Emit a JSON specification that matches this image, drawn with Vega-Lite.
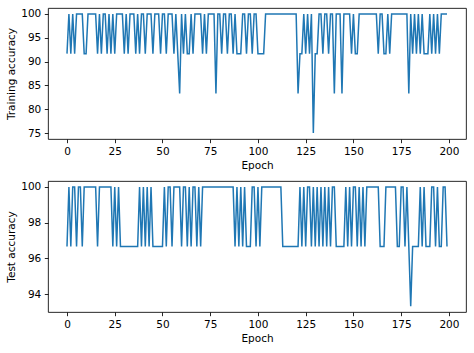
{
  "$schema": "https://vega.github.io/schema/vega-lite/v6.json",
  "padding": {"left": 6, "top": 7, "right": 6, "bottom": 4},
  "spacing": 8,
  "datasets": {
    "acc": [
      {"e":0,"tr":91.67,"te":96.67},{"e":1,"tr":100,"te":100},{"e":2,"tr":91.67,"te":96.67},{"e":3,"tr":100,"te":100},{"e":4,"tr":91.67,"te":100},
      {"e":5,"tr":100,"te":96.67},{"e":6,"tr":100,"te":100},{"e":7,"tr":100,"te":100},{"e":8,"tr":100,"te":96.67},{"e":9,"tr":91.67,"te":100},
      {"e":10,"tr":91.67,"te":100},{"e":11,"tr":100,"te":100},{"e":12,"tr":100,"te":100},{"e":13,"tr":100,"te":100},{"e":14,"tr":100,"te":100},
      {"e":15,"tr":100,"te":100},{"e":16,"tr":91.67,"te":96.67},{"e":17,"tr":100,"te":100},{"e":18,"tr":91.67,"te":100},{"e":19,"tr":100,"te":100},
      {"e":20,"tr":100,"te":100},{"e":21,"tr":91.67,"te":100},{"e":22,"tr":100,"te":100},{"e":23,"tr":91.67,"te":100},{"e":24,"tr":100,"te":96.67},
      {"e":25,"tr":91.67,"te":100},{"e":26,"tr":100,"te":96.67},{"e":27,"tr":100,"te":100},{"e":28,"tr":100,"te":96.67},{"e":29,"tr":100,"te":96.67},
      {"e":30,"tr":91.67,"te":96.67},{"e":31,"tr":100,"te":96.67},{"e":32,"tr":91.67,"te":96.67},{"e":33,"tr":100,"te":96.67},{"e":34,"tr":100,"te":96.67},
      {"e":35,"tr":100,"te":96.67},{"e":36,"tr":91.67,"te":96.67},{"e":37,"tr":100,"te":96.67},{"e":38,"tr":91.67,"te":100},{"e":39,"tr":100,"te":96.67},
      {"e":40,"tr":100,"te":100},{"e":41,"tr":91.67,"te":96.67},{"e":42,"tr":100,"te":100},{"e":43,"tr":100,"te":96.67},{"e":44,"tr":100,"te":100},
      {"e":45,"tr":91.67,"te":96.67},{"e":46,"tr":100,"te":96.67},{"e":47,"tr":100,"te":96.67},{"e":48,"tr":100,"te":96.67},{"e":49,"tr":91.67,"te":96.67},
      {"e":50,"tr":100,"te":96.67},{"e":51,"tr":100,"te":100},{"e":52,"tr":91.67,"te":96.67},{"e":53,"tr":100,"te":100},{"e":54,"tr":100,"te":100},
      {"e":55,"tr":100,"te":96.67},{"e":56,"tr":91.67,"te":100},{"e":57,"tr":100,"te":100},{"e":58,"tr":91.67,"te":100},{"e":59,"tr":83.33,"te":100},
      {"e":60,"tr":100,"te":96.67},{"e":61,"tr":91.67,"te":100},{"e":62,"tr":100,"te":100},{"e":63,"tr":91.67,"te":96.67},{"e":64,"tr":91.67,"te":100},
      {"e":65,"tr":100,"te":96.67},{"e":66,"tr":91.67,"te":100},{"e":67,"tr":100,"te":100},{"e":68,"tr":100,"te":96.67},{"e":69,"tr":100,"te":100},
      {"e":70,"tr":100,"te":96.67},{"e":71,"tr":91.67,"te":100},{"e":72,"tr":100,"te":100},{"e":73,"tr":91.67,"te":100},{"e":74,"tr":100,"te":100},
      {"e":75,"tr":100,"te":100},{"e":76,"tr":100,"te":100},{"e":77,"tr":100,"te":100},{"e":78,"tr":83.33,"te":100},{"e":79,"tr":100,"te":100},
      {"e":80,"tr":100,"te":100},{"e":81,"tr":91.67,"te":100},{"e":82,"tr":100,"te":100},{"e":83,"tr":100,"te":100},{"e":84,"tr":91.67,"te":100},
      {"e":85,"tr":100,"te":100},{"e":86,"tr":100,"te":100},{"e":87,"tr":91.67,"te":100},{"e":88,"tr":100,"te":96.67},{"e":89,"tr":91.67,"te":100},
      {"e":90,"tr":91.67,"te":96.67},{"e":91,"tr":91.67,"te":100},{"e":92,"tr":100,"te":96.67},{"e":93,"tr":100,"te":100},{"e":94,"tr":91.67,"te":96.67},
      {"e":95,"tr":100,"te":96.67},{"e":96,"tr":100,"te":96.67},{"e":97,"tr":91.67,"te":100},{"e":98,"tr":100,"te":100},{"e":99,"tr":100,"te":96.67},
      {"e":100,"tr":91.67,"te":100},{"e":101,"tr":91.67,"te":96.67},{"e":102,"tr":91.67,"te":100},{"e":103,"tr":91.67,"te":100},{"e":104,"tr":100,"te":100},
      {"e":105,"tr":100,"te":100},{"e":106,"tr":100,"te":100},{"e":107,"tr":100,"te":100},{"e":108,"tr":100,"te":100},{"e":109,"tr":100,"te":100},
      {"e":110,"tr":100,"te":100},{"e":111,"tr":100,"te":100},{"e":112,"tr":100,"te":100},{"e":113,"tr":100,"te":96.67},{"e":114,"tr":100,"te":96.67},
      {"e":115,"tr":100,"te":96.67},{"e":116,"tr":100,"te":96.67},{"e":117,"tr":100,"te":96.67},{"e":118,"tr":100,"te":96.67},{"e":119,"tr":100,"te":96.67},
      {"e":120,"tr":100,"te":96.67},{"e":121,"tr":83.33,"te":96.67},{"e":122,"tr":91.67,"te":100},{"e":123,"tr":91.67,"te":96.67},{"e":124,"tr":100,"te":100},
      {"e":125,"tr":91.67,"te":96.67},{"e":126,"tr":100,"te":100},{"e":127,"tr":91.67,"te":100},{"e":128,"tr":100,"te":96.67},{"e":129,"tr":75,"te":100},
      {"e":130,"tr":91.67,"te":96.67},{"e":131,"tr":91.67,"te":100},{"e":132,"tr":100,"te":96.67},{"e":133,"tr":100,"te":100},{"e":134,"tr":91.67,"te":96.67},
      {"e":135,"tr":100,"te":100},{"e":136,"tr":100,"te":96.67},{"e":137,"tr":91.67,"te":100},{"e":138,"tr":100,"te":96.67},{"e":139,"tr":100,"te":100},
      {"e":140,"tr":83.33,"te":100},{"e":141,"tr":100,"te":96.67},{"e":142,"tr":100,"te":96.67},{"e":143,"tr":100,"te":96.67},{"e":144,"tr":83.33,"te":96.67},
      {"e":145,"tr":100,"te":96.67},{"e":146,"tr":100,"te":100},{"e":147,"tr":100,"te":96.67},{"e":148,"tr":100,"te":100},{"e":149,"tr":91.67,"te":96.67},
      {"e":150,"tr":100,"te":100},{"e":151,"tr":91.67,"te":100},{"e":152,"tr":91.67,"te":96.67},{"e":153,"tr":100,"te":100},{"e":154,"tr":100,"te":96.67},
      {"e":155,"tr":100,"te":100},{"e":156,"tr":100,"te":96.67},{"e":157,"tr":100,"te":100},{"e":158,"tr":100,"te":100},{"e":159,"tr":100,"te":100},
      {"e":160,"tr":100,"te":100},{"e":161,"tr":100,"te":100},{"e":162,"tr":100,"te":100},{"e":163,"tr":91.67,"te":100},{"e":164,"tr":100,"te":96.67},
      {"e":165,"tr":100,"te":96.67},{"e":166,"tr":91.67,"te":96.67},{"e":167,"tr":91.67,"te":100},{"e":168,"tr":100,"te":100},{"e":169,"tr":91.67,"te":100},
      {"e":170,"tr":100,"te":100},{"e":171,"tr":100,"te":100},{"e":172,"tr":100,"te":100},{"e":173,"tr":100,"te":96.67},{"e":174,"tr":100,"te":96.67},
      {"e":175,"tr":100,"te":100},{"e":176,"tr":100,"te":100},{"e":177,"tr":100,"te":96.67},{"e":178,"tr":100,"te":100},{"e":179,"tr":83.33,"te":96.67},
      {"e":180,"tr":100,"te":93.33},{"e":181,"tr":91.67,"te":96.67},{"e":182,"tr":100,"te":96.67},{"e":183,"tr":91.67,"te":96.67},{"e":184,"tr":100,"te":96.67},
      {"e":185,"tr":91.67,"te":100},{"e":186,"tr":100,"te":96.67},{"e":187,"tr":91.67,"te":100},{"e":188,"tr":91.67,"te":96.67},{"e":189,"tr":91.67,"te":96.67},
      {"e":190,"tr":100,"te":96.67},{"e":191,"tr":91.67,"te":100},{"e":192,"tr":100,"te":100},{"e":193,"tr":91.67,"te":96.67},{"e":194,"tr":100,"te":100},
      {"e":195,"tr":91.67,"te":96.67},{"e":196,"tr":100,"te":96.67},{"e":197,"tr":100,"te":100},{"e":198,"tr":100,"te":100},{"e":199,"tr":100,"te":96.67}
    ]
  },
  "vconcat": [
    {
      "width": 418,
      "height": 131,
      "data": {"name": "acc"},
      "mark": {"type": "line", "color": "#1f77b4", "strokeWidth": 1.5},
      "encoding": {
        "x": {"field": "e", "type": "quantitative", "title": "Epoch",
              "scale": {"domain": [-9.95, 208.95], "nice": false, "zero": false},
              "axis": {"values": [0, 25, 50, 75, 100, 125, 150, 175, 200]}},
        "y": {"field": "tr", "type": "quantitative", "title": "Training accuracy",
              "scale": {"domain": [73.75, 101.25], "nice": false, "zero": false},
              "axis": {"values": [75, 80, 85, 90, 95, 100]}}
      }
    },
    {
      "width": 418,
      "height": 131,
      "data": {"name": "acc"},
      "mark": {"type": "line", "color": "#1f77b4", "strokeWidth": 1.5},
      "encoding": {
        "x": {"field": "e", "type": "quantitative", "title": "Epoch",
              "scale": {"domain": [-9.95, 208.95], "nice": false, "zero": false},
              "axis": {"values": [0, 25, 50, 75, 100, 125, 150, 175, 200]}},
        "y": {"field": "te", "type": "quantitative", "title": "Test accuracy",
              "scale": {"domain": [93.0, 100.333], "nice": false, "zero": false},
              "axis": {"values": [94, 96, 98, 100]}}
      }
    }
  ],
  "config": {
    "font": "DejaVu Sans",
    "view": {"stroke": "#000000", "strokeWidth": 0.85},
    "axis": {
      "grid": false,
      "domain": false,
      "tickColor": "#000000",
      "tickSize": 3.7,
      "tickWidth": 0.85,
      "labelPadding": 3.5,
      "labelFont": "DejaVu Sans",
      "labelFontSize": 10.5,
      "labelColor": "#000000",
      "titleFont": "DejaVu Sans",
      "titleFontSize": 10.5,
      "titleFontWeight": "normal",
      "titleColor": "#000000",
      "titlePadding": 4
    }
  }
}
